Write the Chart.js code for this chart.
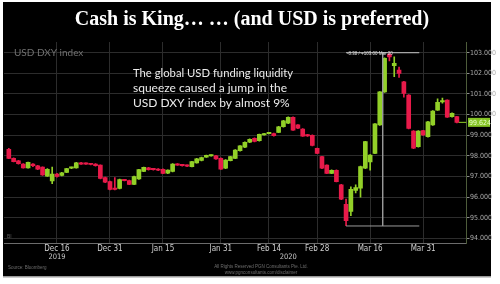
<!DOCTYPE html>
<html>
<head>
<meta charset="utf-8">
<title>Cash is King</title>
<script src="https://cdn.jsdelivr.net/npm/chart.js@4.4.0/dist/chart.umd.min.js"></script>
<style>
  html, body { margin: 0; padding: 0; background: #fff; }
  #wrap { width: 500px; height: 284px; position: relative; }
</style>
</head>
<body>
<div id="wrap"><canvas id="dxyChart"></canvas></div>
<script>
// trading days on the chart (one candle each)
var dates = [
  'Dec 2','Dec 3','Dec 4','Dec 5','Dec 6','Dec 9','Dec 10','Dec 11','Dec 12','Dec 13',
  'Dec 16','Dec 17','Dec 18','Dec 19','Dec 20','Dec 23','Dec 24','Dec 25','Dec 26','Dec 27',
  'Dec 30','Dec 31','Jan 1','Jan 2','Jan 3','Jan 6','Jan 7','Jan 8','Jan 9','Jan 10',
  'Jan 13','Jan 14','Jan 15','Jan 16','Jan 17','Jan 20','Jan 21','Jan 22','Jan 23','Jan 24',
  'Jan 27','Jan 28','Jan 29','Jan 30','Jan 31','Feb 3','Feb 4','Feb 5','Feb 6','Feb 7',
  'Feb 10','Feb 11','Feb 12','Feb 13','Feb 14','Feb 17','Feb 18','Feb 19','Feb 20','Feb 21',
  'Feb 24','Feb 25','Feb 26','Feb 27','Feb 28','Mar 2','Mar 3','Mar 4','Mar 5','Mar 6',
  'Mar 9','Mar 10','Mar 11','Mar 12','Mar 13','Mar 16','Mar 17','Mar 18','Mar 19','Mar 20',
  'Mar 23','Mar 24','Mar 25','Mar 26','Mar 27','Mar 30','Mar 31','Apr 1','Apr 2','Apr 3',
  'Apr 6','Apr 7','Apr 8','Apr 9'
];

var openPx = [
  98.32, 97.88, 97.76, 97.60, 97.42, 97.60, 97.52, 97.45, 97.02, 96.78,
  97.12, 97.05, 97.20, 97.40, 97.42, 97.66, 97.64, 97.62, 97.60, 97.55,
  96.95, 96.75, 96.40, 96.42, 96.84, 96.80, 96.62, 96.88, 97.25, 97.42,
  97.38, 97.36, 97.35, 97.16, 97.24, 97.60, 97.57, 97.55, 97.48, 97.66,
  97.78, 97.94, 98.00, 98.00, 97.88, 97.40, 97.77, 97.88, 98.25, 98.42,
  98.66, 98.85, 98.73, 99.02, 99.08, 99.08, 99.14, 99.41, 99.58, 99.87,
  99.50, 99.30, 99.02, 99.00, 98.36, 97.96, 97.55, 97.15, 97.30, 96.60,
  95.65, 95.30, 96.32, 96.43, 97.40, 97.70, 98.12, 99.50, 101.10, 102.92,
  102.37, 102.16, 101.59, 100.95, 99.20, 98.44, 99.22, 98.93, 99.50, 100.22,
  100.62, 100.70, 99.90, 99.90
];
var closePx = [
  97.88, 97.72, 97.62, 97.42, 97.68, 97.52, 97.35, 97.08, 97.35, 97.12,
  97.00, 97.18, 97.38, 97.43, 97.66, 97.60, 97.60, 97.58, 97.52, 96.90,
  96.72, 96.37, 96.37, 96.85, 96.80, 96.62, 97.00, 97.33, 97.44, 97.33,
  97.33, 97.30, 97.15, 97.31, 97.60, 97.55, 97.52, 97.50, 97.72, 97.86,
  97.92, 98.02, 98.03, 97.85, 97.36, 97.80, 97.96, 98.28, 98.48, 98.66,
  98.80, 98.70, 99.04, 99.07, 99.10, 98.98, 99.41, 99.70, 99.87, 99.25,
  99.34, 98.96, 98.97, 98.50, 98.12, 97.40, 97.15, 97.30, 96.75, 95.90,
  94.86, 96.38, 96.46, 97.48, 98.69, 98.04, 99.55, 101.10, 102.73, 102.80,
  102.49, 102.00, 101.03, 99.33, 98.37, 99.20, 99.01, 99.65, 100.17, 100.60,
  100.66, 99.88, 100.06, 99.62
];
var highPx = [
  98.36, 97.90, 97.78, 97.62, 97.70, 97.63, 97.54, 97.47, 97.38, 97.45,
  97.15, 97.20, 97.40, 97.45, 97.68, 97.68, 97.66, 97.64, 97.62, 97.57,
  96.97, 96.78, 96.95, 96.87, 96.86, 96.82, 97.02, 97.35, 97.46, 97.44,
  97.40, 97.38, 97.37, 97.32, 97.62, 97.62, 97.59, 97.57, 97.74, 97.88,
  97.94, 98.04, 98.05, 98.02, 97.90, 97.82, 97.98, 98.30, 98.50, 98.68,
  98.82, 98.87, 99.06, 99.09, 99.12, 99.10, 99.43, 99.72, 99.89, 99.89,
  99.52, 99.32, 99.04, 99.02, 98.38, 97.98, 97.57, 97.32, 97.32, 96.62,
  95.90, 96.50, 96.60, 97.50, 98.71, 98.06, 99.57, 101.12, 102.75, 103.00,
  102.80, 102.30, 101.61, 100.97, 99.22, 99.22, 99.24, 99.67, 100.19, 100.77,
  100.80, 100.72, 100.08, 99.92
];
var lowPx = [
  97.86, 97.70, 97.60, 97.40, 97.40, 97.48, 97.33, 97.05, 97.00, 96.65,
  96.97, 97.03, 97.18, 97.38, 97.40, 97.58, 97.58, 97.56, 97.50, 96.88,
  96.70, 96.35, 96.35, 96.40, 96.78, 96.60, 96.60, 96.86, 97.23, 97.31,
  97.31, 97.28, 97.14, 97.14, 97.22, 97.53, 97.50, 97.48, 97.46, 97.64,
  97.76, 97.92, 97.98, 97.83, 97.34, 97.38, 97.75, 97.86, 98.23, 98.40,
  98.64, 98.68, 98.71, 99.00, 99.06, 98.96, 99.12, 99.39, 99.56, 99.23,
  99.32, 98.94, 98.94, 98.48, 98.10, 97.38, 97.13, 97.13, 96.73, 95.88,
  94.62, 95.10, 96.20, 96.00, 97.38, 97.30, 98.10, 99.48, 101.08, 102.60,
  101.84, 101.80, 100.85, 99.31, 98.35, 98.42, 98.99, 98.91, 99.48, 100.20,
  100.55, 99.86, 99.88, 99.60
];

var xTickDates = ['Dec 16', 'Dec 31', 'Jan 15', 'Jan 31', 'Feb 14', 'Feb 28', 'Mar 16', 'Mar 31'];
var yTicks = [94, 95, 96, 97, 98, 99, 100, 101, 102, 103];
var yearLabels = ['2019', '2020'];
var yearAt = ['Dec 16', 'Feb 20'];
var lastPrice = 99.624;
// measured move drawn by the terminal's ruler tool
var rulerFrom = 'Mar 9', rulerTo = 'Mar 30', rulerMid = 'Mar 19';
var rulerHigh = 103.0, rulerLow = 94.6;

var GREEN = 'rgb(146, 208, 40)';
var RED = 'rgb(232, 26, 74)';

var idx = function (d) { return dates.indexOf(d); };

var bodies = [], wicks = [], colors = [];
for (var i = 0; i < dates.length; i++) {
  bodies.push({ x: i, y: [openPx[i], closePx[i]] });
  wicks.push({ x: i, y: [lowPx[i], highPx[i]] });
  colors.push(closePx[i] >= openPx[i] ? GREEN : RED);
}

var panelBg = {
  id: 'panelBg',
  beforeDraw: function (chart) {
    var c = chart.ctx;
    c.save();
    c.fillStyle = '#ffffff';
    c.fillRect(0, 0, chart.width, chart.height);
    c.fillStyle = '#000000';
    c.fillRect(3, 2, 488, 275);
    c.fillStyle = '#9a9a9a';
    c.fillRect(3, 276, 488, 1.5);
    c.restore();
  }
};

var overlayText = {
  id: 'overlayText',
  afterDraw: function (chart) {
    var c = chart.ctx, xs = chart.scales.x, ys = chart.scales.y;
    c.save();
    c.textBaseline = 'middle';

    c.fillStyle = '#707070';
    c.font = '10px Lato, sans-serif';
    c.fillText('USD DXY index', 14, 53);

    c.fillStyle = '#ececec';
    c.font = '12px Lato, sans-serif';
    c.fillText('The global USD funding liquidity', 133, 73, 160);
    c.fillText('squeeze caused a jump in the', 133, 88, 160);
    c.fillText('USD DXY index by almost 9%', 133, 103, 160);

    // year row under the date labels
    c.fillStyle = '#c8c8c8';
    c.font = '7.5px "Liberation Sans Narrow", "DejaVu Sans Condensed", sans-serif';
    c.textAlign = 'center';
    for (var k = 0; k < yearLabels.length; k++) {
      c.fillText(yearLabels[k], xs.getPixelForValue(idx(yearAt[k])), 257);
    }

    // last price tag on the axis
    var yp = ys.getPixelForValue(lastPrice);
    c.fillStyle = 'rgb(132, 196, 36)';
    c.fillRect(468, yp - 4.5, 22, 9);
    c.fillStyle = '#eaffcc';
    c.font = '7px "Liberation Sans Narrow", "DejaVu Sans Condensed", sans-serif';
    c.textAlign = 'left';
    c.fillText(lastPrice.toFixed(3), 469, yp + 0.5);

    // ruler label
    c.fillStyle = '#d8d8d8';
    c.font = '4.5px "Liberation Sans Narrow", sans-serif';
    c.fillText('-8.38 / +103.00 Mar 20', 347, ys.getPixelForValue(rulerHigh) + 1.5);

    // small print
    c.fillStyle = '#5a5a5a';
    c.font = '5px "Liberation Sans Narrow", sans-serif';
    c.fillText('BI', 7, 237);
    c.fillStyle = '#6e6e6e';
    c.font = '4.5px "Liberation Sans Narrow", sans-serif';
    c.fillText('Source: Bloomberg', 8, 268);
    c.textAlign = 'center';
    c.fillText('All Rights Reserved PGN Consultants Pte. Ltd.', 261, 267);
    c.fillText('www.pgnconsultants.com/disclaimer', 261, 272.5);
    c.restore();
  }
};

var ctx = document.getElementById('dxyChart').getContext('2d');
var dxyChart = new Chart(ctx, {
  type: 'bar',
  data: {
    datasets: [
      {
        type: 'line', data: [{ x: idx(rulerFrom), y: rulerHigh }, { x: idx(rulerTo) + 0.2, y: rulerHigh }],
        borderColor: '#c8c8c8', borderWidth: 1, pointRadius: 0, order: 0
      },
      {
        type: 'line', data: [{ x: idx(rulerMid) - 0.4, y: rulerHigh }, { x: idx(rulerMid) - 0.4, y: rulerLow }],
        borderColor: '#9a9a9a', borderWidth: 1, pointRadius: 0, order: 0
      },
      {
        type: 'line', data: [{ x: idx(rulerFrom), y: rulerLow }, { x: idx(rulerTo) + 0.2, y: rulerLow }],
        borderColor: '#9a9a9a', borderWidth: 1, pointRadius: 0, order: 0
      },
      {
        type: 'line', data: [{ x: dates.length - 0.6, y: lastPrice }, { x: dates.length + 1, y: lastPrice }],
        borderColor: GREEN, borderWidth: 1, pointRadius: 0, order: 0
      },
      {
        label: 'wick', data: wicks, backgroundColor: colors,
        barThickness: 1, grouped: false, order: 2
      },
      {
        label: 'body', data: bodies, backgroundColor: colors,
        barThickness: 4, minBarLength: 1.3, grouped: false, order: 1
      }
    ]
  },
  options: {
    responsive: true,
    maintainAspectRatio: false,
    animation: false,
    devicePixelRatio: 1,
    layout: { padding: { left: 4, right: 0, top: 0, bottom: 0 } },
    plugins: {
      legend: { display: false },
      tooltip: { enabled: false },
      title: {
        display: true,
        text: 'Cash is King\u2026 \u2026 (and USD is preferred)',
        color: '#ffffff',
        font: { family: '"Liberation Serif", serif', size: 20, weight: 'bold' },
        padding: { top: 8, bottom: 10 }
      }
    },
    scales: {
      x: {
        type: 'linear',
        min: -1,
        max: dates.length + 1,
        offset: false,
        grid: { offset: false, color: '#2c2c2c', drawTicks: false },
        border: { display: true, color: '#6c6c6c' },
        afterBuildTicks: function (scale) {
          scale.ticks = xTickDates.map(function (d) { return { value: idx(d) }; });
        },
        afterFit: function (scale) { scale.height = 40.7; },
        ticks: {
          autoSkip: false,
          maxRotation: 0,
          padding: 1,
          color: '#d0d0d0',
          font: { family: '"Liberation Sans Narrow", "DejaVu Sans Condensed", sans-serif', size: 8 },
          callback: function (v) { return dates[v]; }
        }
      },
      y: {
        position: 'right',
        min: 93.76,
        max: 103.52,
        grid: { color: '#2c2c2c', tickColor: '#8a8a8a', tickLength: 3 },
        border: { display: true, color: '#4d5c3a' },
        afterBuildTicks: function (scale) {
          scale.ticks = yTicks.map(function (v) { return { value: v }; });
        },
        afterFit: function (scale) { scale.width = 33.5; },
        ticks: {
          padding: 0.5,
          color: '#ababab',
          font: { family: '"Liberation Sans Narrow", "DejaVu Sans Condensed", sans-serif', size: 7 },
          callback: function (v) { return v.toFixed(3); }
        }
      }
    }
  },
  plugins: [panelBg, overlayText]
});
</script>
</body>
</html>
